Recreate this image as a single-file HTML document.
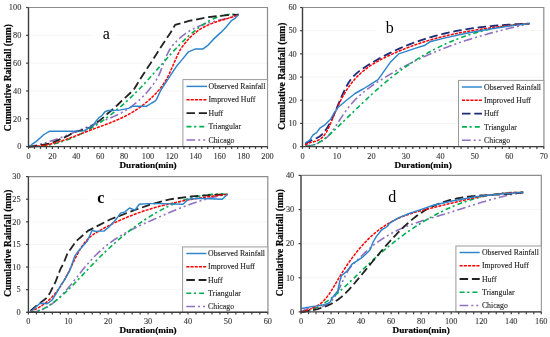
<!DOCTYPE html>
<html><head><meta charset="utf-8"><style>
html,body{margin:0;padding:0;background:#fff;}
svg{display:block;will-change:transform;}
text{font-family:"Liberation Serif", serif;}
</style></head><body>
<svg width="550" height="337" viewBox="0 0 550 337">
<rect width="550" height="337" fill="#fff"/>
<line x1="28.5" y1="118.78" x2="267.5" y2="118.78" stroke="#f6f6f6" stroke-width="1"/>
<line x1="28.5" y1="90.96" x2="267.5" y2="90.96" stroke="#f6f6f6" stroke-width="1"/>
<line x1="28.5" y1="63.14" x2="267.5" y2="63.14" stroke="#f6f6f6" stroke-width="1"/>
<line x1="28.5" y1="35.32" x2="267.5" y2="35.32" stroke="#f6f6f6" stroke-width="1"/>
<rect x="92.8" y="22.6" width="24" height="20" fill="#fff"/>
<polyline points="28.5,7.5 267.5,7.5 267.5,146.6" fill="none" stroke="#8c8c8c" stroke-width="1.2"/>
<polyline points="28.5,146.59 30,146.36 31.5,146.11 33,145.83 34.5,145.53 36,145.22 37.5,144.88 39,144.52 40.5,144.15 42,143.75 43.5,143.34 45,142.92 46.5,142.47 48,142.02 49.5,141.54 51,141.06 52.5,140.56 54,140.05 55.5,139.53 57,138.99 58.5,138.45 60,137.89 61.5,137.33 63,136.76 64.5,136.18 66,135.6 67.5,135.01 69,134.41 70.5,133.81 72,133.21 73.5,132.6 75,131.99 76.5,131.37 78,130.76 79.5,130.15 81,129.53 82.5,128.92 84,128.31 85.5,127.7 87,127.09 88.5,126.49 90,125.89 91.5,125.29 93,124.7 94.5,124.12 96,123.55 97.5,122.98 99,122.41 100.5,121.84 102,121.27 103.5,120.7 105,120.12 106.5,119.53 108,118.93 109.5,118.32 111,117.69 112.5,117.05 114,116.38 115.5,115.7 117,114.99 118.5,114.25 120,113.48 121.5,112.69 123,111.85 124.5,110.99 126,110.08 127.5,109.14 129,108.15 130.5,107.12 132,106.04 133.5,104.91 135,103.73 136.5,102.5 138,101.21 139.5,99.86 141,98.46 142.5,96.99 144,95.45 145.5,93.85 147,92.18 148.5,90.43 150,88.61 151.5,86.72 153,84.75 154.5,82.69 156,80.46 157.5,77.91 159,74.91 160.5,71.38 162,67.49 163.5,63.48 165,59.56 166.5,55.96 168,52.75 169.5,49.95 171,47.57 172.5,45.61 174,43.9 175.5,42.3 177,40.78 178.5,39.35 180,37.99 181.5,36.7 183,35.48 184.5,34.33 186,33.25 187.5,32.23 189,31.27 190.5,30.36 192,29.51 193.5,28.72 195,27.97 196.5,27.26 198,26.6 199.5,25.98 201,25.39 202.5,24.84 204,24.32 205.5,23.83 207,23.37 208.5,22.93 210,22.51 211.5,22.1 213,21.72 214.5,21.34 216,20.97 217.5,20.61 219,20.25 220.5,19.89 222,19.53 223.5,19.17 225,18.8 226.5,18.41 228,18.02 229.5,17.6 231,17.17 232.5,16.72 234,16.24 235.5,15.73 237,15.2 238.5,14.63 238.6,14.59" fill="none" stroke="#9070c0" stroke-width="1.6" stroke-dasharray="8.7 3 2 3 2 3" stroke-linejoin="round"/>
<polyline points="28.5,146.56 30,146.59 31.5,146.6 33,146.59 34.5,146.55 36,146.48 37.5,146.4 39,146.29 40.5,146.15 42,145.99 43.5,145.81 45,145.61 46.5,145.38 48,145.13 49.5,144.85 51,144.55 52.5,144.23 54,143.89 55.5,143.52 57,143.13 58.5,142.72 60,142.28 61.5,141.82 63,141.34 64.5,140.84 66,140.31 67.5,139.77 69,139.2 70.5,138.6 72,137.99 73.5,137.35 75,136.69 76.5,136.01 78,135.31 79.5,134.59 81,133.84 82.5,133.08 84,132.29 85.5,131.48 87,130.65 88.5,129.8 90,128.93 91.5,128.03 93,127.12 94.5,126.18 96,125.22 97.5,124.25 99,123.25 100.5,122.23 102,121.19 103.5,120.13 105,119.05 106.5,117.95 108,116.83 109.5,115.69 111,114.53 112.5,113.35 114,112.15 115.5,110.93 117,109.69 118.5,108.43 120,107.15 121.5,105.85 123,104.53 124.5,103.2 126,101.84 127.5,100.46 129,99.07 130.5,97.66 132,96.22 133.5,94.77 135,93.3 136.5,91.81 138,90.3 139.5,88.78 141,87.23 142.5,85.67 144,84.09 145.5,82.49 147,80.87 148.5,79.23 150,77.58 151.5,75.91 153,74.23 154.5,72.55 156,70.85 157.5,69.14 159,67.44 160.5,65.73 162,64.02 163.5,62.31 165,60.61 166.5,58.92 168,57.23 169.5,55.56 171,53.9 172.5,52.25 174,50.62 175.5,49.01 177,47.42 178.5,45.86 180,44.32 181.5,42.81 183,41.33 184.5,39.87 186,38.45 187.5,37.05 189,35.69 190.5,34.36 192,33.06 193.5,31.8 195,30.57 196.5,29.38 198,28.23 199.5,27.11 201,26.04 202.5,25 204,24.01 205.5,23.06 207,22.15 208.5,21.28 210,20.46 211.5,19.69 213,18.96 214.5,18.28 216,17.65 217.5,17.06 219,16.53 220.5,16.05 222,15.63 223.5,15.25 225,14.93 226.5,14.67 228,14.46 229.5,14.31 231,14.21 232.5,14.18 234,14.21 235.5,14.29 237,14.44 238.5,14.65 238.6,14.67" fill="none" stroke="#00b050" stroke-width="1.6" stroke-dasharray="5 2.6 2.1 3.1" stroke-linejoin="round"/>
<polyline points="28.5,146.6 34.5,146.2 49.4,143.6 54.2,141.8 67.6,136 75,131.8 83.9,129.6 90.1,127.4 98.2,121.6 104.4,116.7 107.7,113.5 113.5,108.6 117.5,105 121.9,100.6 126.4,96.6 131.7,91.7 134.5,88.5 141.1,77.8 145.6,70.7 152.7,60 161.3,46.5 166.1,39.2 170,33.6 175.1,24.9 189.1,20.9 208.2,17.1 227.3,15.2 238.6,14.6" fill="none" stroke="#222222" stroke-width="1.8" stroke-dasharray="8.5 3.8" stroke-linejoin="round"/>
<polyline points="28.5,146.6 30,146.63 31.5,146.62 33,146.58 34.5,146.51 36,146.41 37.5,146.28 39,146.12 40.5,145.93 42,145.72 43.5,145.48 45,145.21 46.5,144.92 48,144.61 49.5,144.27 51,143.92 52.5,143.54 54,143.14 55.5,142.73 57,142.3 58.5,141.85 60,141.38 61.5,140.91 63,140.41 64.5,139.91 66,139.39 67.5,138.87 69,138.33 70.5,137.78 72,137.23 73.5,136.67 75,136.1 76.5,135.53 78,134.96 79.5,134.38 81,133.8 82.5,133.21 84,132.63 85.5,132.05 87,131.47 88.5,130.89 90,130.32 91.5,129.75 93,129.19 94.5,128.63 96,128.08 97.5,127.53 99,126.98 100.5,126.44 102,125.89 103.5,125.34 105,124.78 106.5,124.22 108,123.65 109.5,123.08 111,122.49 112.5,121.9 114,121.29 115.5,120.67 117,120.03 118.5,119.37 120,118.7 121.5,118.01 123,117.29 124.5,116.55 126,115.79 127.5,115 129,114.19 130.5,113.35 132,112.47 133.5,111.57 135,110.63 136.5,109.66 138,108.65 139.5,107.61 141,106.52 142.5,105.4 144,104.24 145.5,103.03 147,101.78 148.5,100.48 150,99.13 151.5,97.74 153,96.3 154.5,94.8 156,93.25 157.5,91.62 159,89.9 160.5,88.06 162,86.08 163.5,83.93 165,81.61 166.5,79.08 168,76.33 169.5,73.32 171,70.06 172.5,66.62 174,63.08 175.5,59.58 177,56.2 178.5,53.06 180,50.26 181.5,47.83 183,45.7 184.5,43.74 186,41.91 187.5,40.18 189,38.55 190.5,37.02 192,35.59 193.5,34.24 195,32.99 196.5,31.81 198,30.71 199.5,29.68 201,28.73 202.5,27.83 204,27 205.5,26.22 207,25.5 208.5,24.82 210,24.19 211.5,23.59 213,23.03 214.5,22.5 216,21.99 217.5,21.51 219,21.04 220.5,20.59 222,20.15 223.5,19.71 225,19.27 226.5,18.83 228,18.38 229.5,17.91 231,17.43 232.5,16.93 234,16.41 235.5,15.85 237,15.26 238.5,14.64 238.6,14.59" fill="none" stroke="#ff0000" stroke-width="1.5" stroke-dasharray="3.1 1.1" stroke-linejoin="round"/>
<polyline points="28.5,146.6 30.2,146.2 32.5,143.8 36,141.6 44,134.5 49.4,131.3 75,131.3 83.9,130.9 92.8,125.6 96.4,120.7 99,117.6 101.7,115.8 105,111.8 108.6,110.4 113,110.4 119.2,110.1 128.6,108.4 133,106.1 146.4,106.3 151.7,103 155,101.2 156.5,99.4 160.9,90 166.9,80.8 171.3,74.1 177.3,65.2 182.3,59.4 188.5,51.8 195.5,48.9 203.1,48.9 208.2,45.1 213.3,39.4 220.9,32.4 226,27.3 231.1,20.9 234.9,18.4 238.6,14.6" fill="none" stroke="#2b84cc" stroke-width="1.45" stroke-linejoin="round"/>
<rect x="182.9" y="79.6" width="84.6" height="67" fill="#fff" stroke="#9a9a9a" stroke-width="1"/>
<line x1="186.5" y1="86.4" x2="207" y2="86.4" stroke="#2b84cc" stroke-width="1.45"/>
<text x="208.5" y="89" font-size="7.8" fill="#1e1e1e" stroke="#1e1e1e" stroke-width="0.12">Observed Rainfall</text>
<line x1="186.5" y1="99.8" x2="207" y2="99.8" stroke="#ff0000" stroke-width="1.5" stroke-dasharray="3.1 1.1"/>
<text x="208.5" y="102.4" font-size="7.8" fill="#1e1e1e" stroke="#1e1e1e" stroke-width="0.12">Improved Huff</text>
<line x1="186.5" y1="113.2" x2="207" y2="113.2" stroke="#222222" stroke-width="1.8" stroke-dasharray="8.5 3.8"/>
<text x="208.5" y="115.8" font-size="7.8" fill="#1e1e1e" stroke="#1e1e1e" stroke-width="0.12">Huff</text>
<line x1="186.5" y1="126.6" x2="207" y2="126.6" stroke="#00b050" stroke-width="1.6" stroke-dasharray="5 2.6 2.1 3.1"/>
<text x="208.5" y="129.2" font-size="7.8" fill="#1e1e1e" stroke="#1e1e1e" stroke-width="0.12">Triangular</text>
<line x1="186.5" y1="140" x2="207" y2="140" stroke="#9070c0" stroke-width="1.6" stroke-dasharray="8.7 3 2 3 2 3"/>
<text x="208.5" y="142.6" font-size="7.8" fill="#1e1e1e" stroke="#1e1e1e" stroke-width="0.12">Chicago</text>
<line x1="28.5" y1="7.5" x2="28.5" y2="146.6" stroke="#3c3c3c" stroke-width="1.4"/>
<line x1="27.8" y1="146.6" x2="267.5" y2="146.6" stroke="#3c3c3c" stroke-width="1.4"/>
<line x1="28.5" y1="146.6" x2="28.5" y2="148.9" stroke="#3c3c3c" stroke-width="1.2"/>
<line x1="34.48" y1="146.6" x2="34.48" y2="148.9" stroke="#3c3c3c" stroke-width="1.2"/>
<line x1="40.45" y1="146.6" x2="40.45" y2="148.9" stroke="#3c3c3c" stroke-width="1.2"/>
<line x1="46.42" y1="146.6" x2="46.42" y2="148.9" stroke="#3c3c3c" stroke-width="1.2"/>
<line x1="52.4" y1="146.6" x2="52.4" y2="148.9" stroke="#3c3c3c" stroke-width="1.2"/>
<line x1="58.38" y1="146.6" x2="58.38" y2="148.9" stroke="#3c3c3c" stroke-width="1.2"/>
<line x1="64.35" y1="146.6" x2="64.35" y2="148.9" stroke="#3c3c3c" stroke-width="1.2"/>
<line x1="70.33" y1="146.6" x2="70.33" y2="148.9" stroke="#3c3c3c" stroke-width="1.2"/>
<line x1="76.3" y1="146.6" x2="76.3" y2="148.9" stroke="#3c3c3c" stroke-width="1.2"/>
<line x1="82.28" y1="146.6" x2="82.28" y2="148.9" stroke="#3c3c3c" stroke-width="1.2"/>
<line x1="88.25" y1="146.6" x2="88.25" y2="148.9" stroke="#3c3c3c" stroke-width="1.2"/>
<line x1="94.22" y1="146.6" x2="94.22" y2="148.9" stroke="#3c3c3c" stroke-width="1.2"/>
<line x1="100.2" y1="146.6" x2="100.2" y2="148.9" stroke="#3c3c3c" stroke-width="1.2"/>
<line x1="106.17" y1="146.6" x2="106.17" y2="148.9" stroke="#3c3c3c" stroke-width="1.2"/>
<line x1="112.15" y1="146.6" x2="112.15" y2="148.9" stroke="#3c3c3c" stroke-width="1.2"/>
<line x1="118.12" y1="146.6" x2="118.12" y2="148.9" stroke="#3c3c3c" stroke-width="1.2"/>
<line x1="124.1" y1="146.6" x2="124.1" y2="148.9" stroke="#3c3c3c" stroke-width="1.2"/>
<line x1="130.07" y1="146.6" x2="130.07" y2="148.9" stroke="#3c3c3c" stroke-width="1.2"/>
<line x1="136.05" y1="146.6" x2="136.05" y2="148.9" stroke="#3c3c3c" stroke-width="1.2"/>
<line x1="142.03" y1="146.6" x2="142.03" y2="148.9" stroke="#3c3c3c" stroke-width="1.2"/>
<line x1="148" y1="146.6" x2="148" y2="148.9" stroke="#3c3c3c" stroke-width="1.2"/>
<line x1="153.97" y1="146.6" x2="153.97" y2="148.9" stroke="#3c3c3c" stroke-width="1.2"/>
<line x1="159.95" y1="146.6" x2="159.95" y2="148.9" stroke="#3c3c3c" stroke-width="1.2"/>
<line x1="165.93" y1="146.6" x2="165.93" y2="148.9" stroke="#3c3c3c" stroke-width="1.2"/>
<line x1="171.9" y1="146.6" x2="171.9" y2="148.9" stroke="#3c3c3c" stroke-width="1.2"/>
<line x1="177.88" y1="146.6" x2="177.88" y2="148.9" stroke="#3c3c3c" stroke-width="1.2"/>
<line x1="183.85" y1="146.6" x2="183.85" y2="148.9" stroke="#3c3c3c" stroke-width="1.2"/>
<line x1="189.82" y1="146.6" x2="189.82" y2="148.9" stroke="#3c3c3c" stroke-width="1.2"/>
<line x1="195.8" y1="146.6" x2="195.8" y2="148.9" stroke="#3c3c3c" stroke-width="1.2"/>
<line x1="201.78" y1="146.6" x2="201.78" y2="148.9" stroke="#3c3c3c" stroke-width="1.2"/>
<line x1="207.75" y1="146.6" x2="207.75" y2="148.9" stroke="#3c3c3c" stroke-width="1.2"/>
<line x1="213.72" y1="146.6" x2="213.72" y2="148.9" stroke="#3c3c3c" stroke-width="1.2"/>
<line x1="219.7" y1="146.6" x2="219.7" y2="148.9" stroke="#3c3c3c" stroke-width="1.2"/>
<line x1="225.68" y1="146.6" x2="225.68" y2="148.9" stroke="#3c3c3c" stroke-width="1.2"/>
<line x1="231.65" y1="146.6" x2="231.65" y2="148.9" stroke="#3c3c3c" stroke-width="1.2"/>
<line x1="237.62" y1="146.6" x2="237.62" y2="148.9" stroke="#3c3c3c" stroke-width="1.2"/>
<line x1="243.6" y1="146.6" x2="243.6" y2="148.9" stroke="#3c3c3c" stroke-width="1.2"/>
<line x1="249.57" y1="146.6" x2="249.57" y2="148.9" stroke="#3c3c3c" stroke-width="1.2"/>
<line x1="255.55" y1="146.6" x2="255.55" y2="148.9" stroke="#3c3c3c" stroke-width="1.2"/>
<line x1="261.52" y1="146.6" x2="261.52" y2="148.9" stroke="#3c3c3c" stroke-width="1.2"/>
<line x1="267.5" y1="146.6" x2="267.5" y2="148.9" stroke="#3c3c3c" stroke-width="1.2"/>
<text x="28.5" y="158.5" font-size="8.3" fill="#333" stroke="#333" stroke-width="0.1" text-anchor="middle">0</text>
<text x="52.4" y="158.5" font-size="8.3" fill="#333" stroke="#333" stroke-width="0.1" text-anchor="middle">20</text>
<text x="76.3" y="158.5" font-size="8.3" fill="#333" stroke="#333" stroke-width="0.1" text-anchor="middle">40</text>
<text x="100.2" y="158.5" font-size="8.3" fill="#333" stroke="#333" stroke-width="0.1" text-anchor="middle">60</text>
<text x="124.1" y="158.5" font-size="8.3" fill="#333" stroke="#333" stroke-width="0.1" text-anchor="middle">80</text>
<text x="148" y="158.5" font-size="8.3" fill="#333" stroke="#333" stroke-width="0.1" text-anchor="middle">100</text>
<text x="171.9" y="158.5" font-size="8.3" fill="#333" stroke="#333" stroke-width="0.1" text-anchor="middle">120</text>
<text x="195.8" y="158.5" font-size="8.3" fill="#333" stroke="#333" stroke-width="0.1" text-anchor="middle">140</text>
<text x="219.7" y="158.5" font-size="8.3" fill="#333" stroke="#333" stroke-width="0.1" text-anchor="middle">160</text>
<text x="243.6" y="158.5" font-size="8.3" fill="#333" stroke="#333" stroke-width="0.1" text-anchor="middle">180</text>
<text x="267.5" y="158.5" font-size="8.3" fill="#333" stroke="#333" stroke-width="0.1" text-anchor="middle">200</text>
<line x1="26.1" y1="146.6" x2="28.5" y2="146.6" stroke="#3c3c3c" stroke-width="1.2"/>
<text x="21.3" y="149.4" font-size="8.3" fill="#333" stroke="#333" stroke-width="0.1" text-anchor="end">0</text>
<line x1="26.1" y1="118.78" x2="28.5" y2="118.78" stroke="#3c3c3c" stroke-width="1.2"/>
<text x="21.3" y="121.58" font-size="8.3" fill="#333" stroke="#333" stroke-width="0.1" text-anchor="end">20</text>
<line x1="26.1" y1="90.96" x2="28.5" y2="90.96" stroke="#3c3c3c" stroke-width="1.2"/>
<text x="21.3" y="93.76" font-size="8.3" fill="#333" stroke="#333" stroke-width="0.1" text-anchor="end">40</text>
<line x1="26.1" y1="63.14" x2="28.5" y2="63.14" stroke="#3c3c3c" stroke-width="1.2"/>
<text x="21.3" y="65.94" font-size="8.3" fill="#333" stroke="#333" stroke-width="0.1" text-anchor="end">60</text>
<line x1="26.1" y1="35.32" x2="28.5" y2="35.32" stroke="#3c3c3c" stroke-width="1.2"/>
<text x="21.3" y="38.12" font-size="8.3" fill="#333" stroke="#333" stroke-width="0.1" text-anchor="end">80</text>
<line x1="26.1" y1="7.5" x2="28.5" y2="7.5" stroke="#3c3c3c" stroke-width="1.2"/>
<text x="21.3" y="10.3" font-size="8.3" fill="#333" stroke="#333" stroke-width="0.1" text-anchor="end">100</text>
<text x="148" y="167.6" font-size="9.2" font-weight="bold" fill="#000" stroke="#000" stroke-width="0.2" text-anchor="middle">Duration(min)</text>
<text transform="translate(10.6,77.65) rotate(-90)" x="0" y="0" font-size="9.5" font-weight="bold" fill="#000" stroke="#000" stroke-width="0.2" text-anchor="middle">Cumulative Rainfall (mm)</text>
<text x="102.8" y="38.6" font-size="16" fill="#000">a</text>
<line x1="302.5" y1="123.42" x2="543.8" y2="123.42" stroke="#f6f6f6" stroke-width="1"/>
<line x1="302.5" y1="100.23" x2="543.8" y2="100.23" stroke="#f6f6f6" stroke-width="1"/>
<line x1="302.5" y1="77.05" x2="543.8" y2="77.05" stroke="#f6f6f6" stroke-width="1"/>
<line x1="302.5" y1="53.87" x2="543.8" y2="53.87" stroke="#f6f6f6" stroke-width="1"/>
<line x1="302.5" y1="30.68" x2="543.8" y2="30.68" stroke="#f6f6f6" stroke-width="1"/>
<rect x="375.8" y="17.2" width="24" height="20" fill="#fff"/>
<polyline points="302.5,7.5 543.8,7.5 543.8,146.6" fill="none" stroke="#8c8c8c" stroke-width="1.2"/>
<polyline points="305.2,145.59 306.7,145.59 308.2,145.54 309.7,145.42 311.2,145.24 312.7,144.97 314.2,144.62 315.7,144.18 317.2,143.64 318.7,142.99 320.2,142.24 321.7,141.36 323.2,140.36 324.7,139.22 326.2,137.95 327.7,136.52 329.2,134.95 330.7,133.21 332.2,131.31 333.7,129.24 335.2,127.04 336.7,124.75 338.2,122.4 339.7,120.03 341.2,117.68 342.7,115.39 344.2,113.2 345.7,111.1 347.2,109.09 348.7,107.18 350.2,105.34 351.7,103.59 353.2,101.91 354.7,100.31 356.2,98.78 357.7,97.31 359.2,95.9 360.7,94.55 362.2,93.25 363.7,92.01 365.2,90.8 366.7,89.64 368.2,88.52 369.7,87.43 371.2,86.37 372.7,85.34 374.2,84.32 375.7,83.33 377.2,82.35 378.7,81.38 380.2,80.42 381.7,79.47 383.2,78.53 384.7,77.61 386.2,76.69 387.7,75.78 389.2,74.89 390.7,74 392.2,73.13 393.7,72.26 395.2,71.4 396.7,70.56 398.2,69.72 399.7,68.89 401.2,68.07 402.7,67.26 404.2,66.47 405.7,65.67 407.2,64.89 408.7,64.12 410.2,63.36 411.7,62.6 413.2,61.86 414.7,61.12 416.2,60.39 417.7,59.67 419.2,58.96 420.7,58.26 422.2,57.56 423.7,56.88 425.2,56.2 426.7,55.53 428.2,54.87 429.7,54.21 431.2,53.56 432.7,52.92 434.2,52.29 435.7,51.67 437.2,51.05 438.7,50.44 440.2,49.84 441.7,49.24 443.2,48.65 444.7,48.07 446.2,47.5 447.7,46.93 449.2,46.37 450.7,45.81 452.2,45.26 453.7,44.72 455.2,44.18 456.7,43.65 458.2,43.13 459.7,42.61 461.2,42.1 462.7,41.59 464.2,41.09 465.7,40.6 467.2,40.11 468.7,39.63 470.2,39.15 471.7,38.68 473.2,38.21 474.7,37.75 476.2,37.29 477.7,36.84 479.2,36.39 480.7,35.95 482.2,35.51 483.7,35.08 485.2,34.65 486.7,34.22 488.2,33.8 489.7,33.39 491.2,32.97 492.7,32.57 494.2,32.16 495.7,31.76 497.2,31.37 498.7,30.98 500.2,30.59 501.7,30.2 503.2,29.82 504.7,29.44 506.2,29.07 507.7,28.7 509.2,28.33 510.7,27.96 512.2,27.6 513.7,27.24 515.2,26.88 516.7,26.53 518.2,26.18 519.7,25.83 521.2,25.48 522.7,25.13 524.2,24.79 525.7,24.45 527.2,24.11 528.7,23.78 529.6,23.58" fill="none" stroke="#9070c0" stroke-width="1.6" stroke-dasharray="8.7 3 2 3 2 3" stroke-linejoin="round"/>
<polyline points="305.9,146.06 307.4,146.11 308.9,146.04 310.4,145.83 311.9,145.5 313.4,145.05 314.9,144.5 316.4,143.83 317.9,143.08 319.4,142.23 320.9,141.3 322.4,140.28 323.9,139.2 325.4,138.06 326.9,136.85 328.4,135.59 329.9,134.29 331.4,132.94 332.9,131.57 334.4,130.17 335.9,128.74 337.4,127.31 338.9,125.86 340.4,124.42 341.9,122.97 343.4,121.51 344.9,120.06 346.4,118.6 347.9,117.14 349.4,115.68 350.9,114.22 352.4,112.77 353.9,111.31 355.4,109.86 356.9,108.41 358.4,106.97 359.9,105.52 361.4,104.09 362.9,102.66 364.4,101.23 365.9,99.82 367.4,98.41 368.9,97.01 370.4,95.62 371.9,94.23 373.4,92.86 374.9,91.5 376.4,90.15 377.9,88.82 379.4,87.49 380.9,86.18 382.4,84.89 383.9,83.6 385.4,82.34 386.9,81.09 388.4,79.86 389.9,78.64 391.4,77.44 392.9,76.25 394.4,75.08 395.9,73.93 397.4,72.79 398.9,71.67 400.4,70.56 401.9,69.47 403.4,68.39 404.9,67.33 406.4,66.28 407.9,65.25 409.4,64.23 410.9,63.23 412.4,62.24 413.9,61.26 415.4,60.3 416.9,59.36 418.4,58.43 419.9,57.51 421.4,56.61 422.9,55.72 424.4,54.85 425.9,53.99 427.4,53.14 428.9,52.31 430.4,51.49 431.9,50.69 433.4,49.9 434.9,49.12 436.4,48.35 437.9,47.6 439.4,46.87 440.9,46.14 442.4,45.43 443.9,44.73 445.4,44.04 446.9,43.37 448.4,42.71 449.9,42.06 451.4,41.43 452.9,40.8 454.4,40.19 455.9,39.59 457.4,39.01 458.9,38.43 460.4,37.87 461.9,37.32 463.4,36.78 464.9,36.26 466.4,35.74 467.9,35.24 469.4,34.75 470.9,34.27 472.4,33.8 473.9,33.34 475.4,32.89 476.9,32.46 478.4,32.03 479.9,31.62 481.4,31.22 482.9,30.83 484.4,30.45 485.9,30.08 487.4,29.72 488.9,29.37 490.4,29.03 491.9,28.7 493.4,28.38 494.9,28.08 496.4,27.78 497.9,27.49 499.4,27.21 500.9,26.94 502.4,26.68 503.9,26.44 505.4,26.2 506.9,25.97 508.4,25.75 509.9,25.53 511.4,25.33 512.9,25.14 514.4,24.96 515.9,24.78 517.4,24.61 518.9,24.46 520.4,24.31 521.9,24.17 523.4,24.04 524.9,23.92 526.4,23.8 527.9,23.7 529.4,23.6 529.6,23.59" fill="none" stroke="#00b050" stroke-width="1.6" stroke-dasharray="5 2.6 2.1 3.1" stroke-linejoin="round"/>
<polyline points="305.2,144.59 306.7,143.21 308.2,142.09 309.7,141.18 311.2,140.42 312.7,139.76 314.2,139.15 315.7,138.52 317.2,137.83 318.7,137.01 320.2,136.01 321.7,134.78 323.2,133.26 324.7,131.42 326.2,129.3 327.7,126.91 329.2,124.27 330.7,121.41 332.2,118.35 333.7,115.11 335.2,111.72 336.7,108.22 338.2,104.66 339.7,101.09 341.2,97.56 342.7,94.14 344.2,90.86 345.7,87.79 347.2,84.97 348.7,82.46 350.2,80.26 351.7,78.32 353.2,76.6 354.7,75.06 356.2,73.66 357.7,72.37 359.2,71.16 360.7,70.03 362.2,68.96 363.7,67.94 365.2,66.96 366.7,66 368.2,65.06 369.7,64.13 371.2,63.22 372.7,62.32 374.2,61.43 375.7,60.56 377.2,59.7 378.7,58.86 380.2,58.03 381.7,57.21 383.2,56.41 384.7,55.62 386.2,54.84 387.7,54.08 389.2,53.33 390.7,52.59 392.2,51.86 393.7,51.15 395.2,50.45 396.7,49.76 398.2,49.08 399.7,48.42 401.2,47.76 402.7,47.12 404.2,46.49 405.7,45.88 407.2,45.27 408.7,44.67 410.2,44.09 411.7,43.52 413.2,42.96 414.7,42.41 416.2,41.87 417.7,41.34 419.2,40.82 420.7,40.31 422.2,39.81 423.7,39.32 425.2,38.85 426.7,38.38 428.2,37.92 429.7,37.47 431.2,37.03 432.7,36.6 434.2,36.18 435.7,35.77 437.2,35.37 438.7,34.98 440.2,34.6 441.7,34.22 443.2,33.86 444.7,33.5 446.2,33.15 447.7,32.81 449.2,32.48 450.7,32.15 452.2,31.84 453.7,31.53 455.2,31.23 456.7,30.94 458.2,30.65 459.7,30.37 461.2,30.1 462.7,29.84 464.2,29.58 465.7,29.33 467.2,29.09 468.7,28.86 470.2,28.63 471.7,28.41 473.2,28.19 474.7,27.98 476.2,27.78 477.7,27.58 479.2,27.39 480.7,27.2 482.2,27.02 483.7,26.85 485.2,26.68 486.7,26.51 488.2,26.35 489.7,26.2 491.2,26.05 492.7,25.91 494.2,25.77 495.7,25.64 497.2,25.51 498.7,25.38 500.2,25.26 501.7,25.15 503.2,25.03 504.7,24.93 506.2,24.82 507.7,24.72 509.2,24.62 510.7,24.53 512.2,24.44 513.7,24.35 515.2,24.27 516.7,24.19 518.2,24.11 519.7,24.04 521.2,23.96 522.7,23.89 524.2,23.83 525.7,23.76 527.2,23.7 528.7,23.64 529.6,23.6" fill="none" stroke="#1c2a78" stroke-width="1.8" stroke-dasharray="8.5 3.8" stroke-linejoin="round"/>
<polyline points="305.2,145.2 306.7,144.19 308.2,143.41 309.7,142.82 311.2,142.36 312.7,141.96 314.2,141.58 315.7,141.16 317.2,140.64 318.7,139.97 320.2,139.09 321.7,137.94 323.2,136.47 324.7,134.62 326.2,132.34 327.7,129.6 329.2,126.49 330.7,123.09 332.2,119.53 333.7,115.89 335.2,112.28 336.7,108.8 338.2,105.51 339.7,102.38 341.2,99.43 342.7,96.64 344.2,94.01 345.7,91.52 347.2,89.17 348.7,86.96 350.2,84.87 351.7,82.91 353.2,81.05 354.7,79.31 356.2,77.66 357.7,76.1 359.2,74.63 360.7,73.23 362.2,71.91 363.7,70.65 365.2,69.44 366.7,68.3 368.2,67.21 369.7,66.16 371.2,65.16 372.7,64.21 374.2,63.29 375.7,62.41 377.2,61.56 378.7,60.73 380.2,59.93 381.7,59.16 383.2,58.4 384.7,57.65 386.2,56.91 387.7,56.19 389.2,55.48 390.7,54.78 392.2,54.09 393.7,53.41 395.2,52.75 396.7,52.09 398.2,51.45 399.7,50.81 401.2,50.19 402.7,49.57 404.2,48.97 405.7,48.38 407.2,47.79 408.7,47.22 410.2,46.66 411.7,46.1 413.2,45.56 414.7,45.02 416.2,44.5 417.7,43.98 419.2,43.48 420.7,42.98 422.2,42.49 423.7,42.01 425.2,41.54 426.7,41.08 428.2,40.62 429.7,40.18 431.2,39.74 432.7,39.31 434.2,38.89 435.7,38.48 437.2,38.07 438.7,37.67 440.2,37.28 441.7,36.9 443.2,36.53 444.7,36.16 446.2,35.8 447.7,35.44 449.2,35.1 450.7,34.76 452.2,34.42 453.7,34.1 455.2,33.78 456.7,33.46 458.2,33.16 459.7,32.86 461.2,32.56 462.7,32.27 464.2,31.99 465.7,31.71 467.2,31.44 468.7,31.17 470.2,30.91 471.7,30.65 473.2,30.4 474.7,30.16 476.2,29.91 477.7,29.68 479.2,29.45 480.7,29.22 482.2,29 483.7,28.78 485.2,28.56 486.7,28.35 488.2,28.15 489.7,27.95 491.2,27.75 492.7,27.55 494.2,27.36 495.7,27.17 497.2,26.99 498.7,26.81 500.2,26.63 501.7,26.46 503.2,26.28 504.7,26.12 506.2,25.95 507.7,25.78 509.2,25.62 510.7,25.46 512.2,25.31 513.7,25.15 515.2,25 516.7,24.85 518.2,24.7 519.7,24.55 521.2,24.4 522.7,24.26 524.2,24.12 525.7,23.97 527.2,23.83 528.7,23.69 529.6,23.61" fill="none" stroke="#ff0000" stroke-width="1.5" stroke-dasharray="3.1 1.1" stroke-linejoin="round"/>
<polyline points="305.2,142.8 309.5,140.3 313.1,134.9 316.6,132.6 320.2,127.8 324.9,124.8 330.9,118.9 333.5,114 338,107.5 345.6,101 355,93.5 363.1,89 371,84.2 378.1,79.7 390.6,61.9 398.6,53.9 408.4,50.6 415,48.4 425,45.2 430,41.8 444.2,38.1 466.4,33.2 488.5,29.2 510.7,25.9 529.6,23.6" fill="none" stroke="#2b84cc" stroke-width="1.45" stroke-linejoin="round"/>
<rect x="458.5" y="80.4" width="85.3" height="66.2" fill="#fff" stroke="#9a9a9a" stroke-width="1"/>
<line x1="462" y1="87" x2="482" y2="87" stroke="#2b84cc" stroke-width="1.45"/>
<text x="484.1" y="89.6" font-size="7.8" fill="#1e1e1e" stroke="#1e1e1e" stroke-width="0.12">Observed Rainfall</text>
<line x1="462" y1="100.3" x2="482" y2="100.3" stroke="#ff0000" stroke-width="1.5" stroke-dasharray="3.1 1.1"/>
<text x="484.1" y="102.9" font-size="7.8" fill="#1e1e1e" stroke="#1e1e1e" stroke-width="0.12">Improved Huff</text>
<line x1="462" y1="113.6" x2="482" y2="113.6" stroke="#1c2a78" stroke-width="1.8" stroke-dasharray="8.5 3.8"/>
<text x="484.1" y="116.2" font-size="7.8" fill="#1e1e1e" stroke="#1e1e1e" stroke-width="0.12">Huff</text>
<line x1="462" y1="126.9" x2="482" y2="126.9" stroke="#00b050" stroke-width="1.6" stroke-dasharray="5 2.6 2.1 3.1"/>
<text x="484.1" y="129.5" font-size="7.8" fill="#1e1e1e" stroke="#1e1e1e" stroke-width="0.12">Triangular</text>
<line x1="462" y1="140.2" x2="482" y2="140.2" stroke="#9070c0" stroke-width="1.6" stroke-dasharray="8.7 3 2 3 2 3"/>
<text x="484.1" y="142.8" font-size="7.8" fill="#1e1e1e" stroke="#1e1e1e" stroke-width="0.12">Chicago</text>
<line x1="302.5" y1="7.5" x2="302.5" y2="146.6" stroke="#3c3c3c" stroke-width="1.4"/>
<line x1="301.8" y1="146.6" x2="543.8" y2="146.6" stroke="#3c3c3c" stroke-width="1.4"/>
<line x1="302.5" y1="146.6" x2="302.5" y2="148.9" stroke="#3c3c3c" stroke-width="1.2"/>
<line x1="309.39" y1="146.6" x2="309.39" y2="148.9" stroke="#3c3c3c" stroke-width="1.2"/>
<line x1="316.29" y1="146.6" x2="316.29" y2="148.9" stroke="#3c3c3c" stroke-width="1.2"/>
<line x1="323.18" y1="146.6" x2="323.18" y2="148.9" stroke="#3c3c3c" stroke-width="1.2"/>
<line x1="330.08" y1="146.6" x2="330.08" y2="148.9" stroke="#3c3c3c" stroke-width="1.2"/>
<line x1="336.97" y1="146.6" x2="336.97" y2="148.9" stroke="#3c3c3c" stroke-width="1.2"/>
<line x1="343.87" y1="146.6" x2="343.87" y2="148.9" stroke="#3c3c3c" stroke-width="1.2"/>
<line x1="350.76" y1="146.6" x2="350.76" y2="148.9" stroke="#3c3c3c" stroke-width="1.2"/>
<line x1="357.65" y1="146.6" x2="357.65" y2="148.9" stroke="#3c3c3c" stroke-width="1.2"/>
<line x1="364.55" y1="146.6" x2="364.55" y2="148.9" stroke="#3c3c3c" stroke-width="1.2"/>
<line x1="371.44" y1="146.6" x2="371.44" y2="148.9" stroke="#3c3c3c" stroke-width="1.2"/>
<line x1="378.34" y1="146.6" x2="378.34" y2="148.9" stroke="#3c3c3c" stroke-width="1.2"/>
<line x1="385.23" y1="146.6" x2="385.23" y2="148.9" stroke="#3c3c3c" stroke-width="1.2"/>
<line x1="392.13" y1="146.6" x2="392.13" y2="148.9" stroke="#3c3c3c" stroke-width="1.2"/>
<line x1="399.02" y1="146.6" x2="399.02" y2="148.9" stroke="#3c3c3c" stroke-width="1.2"/>
<line x1="405.91" y1="146.6" x2="405.91" y2="148.9" stroke="#3c3c3c" stroke-width="1.2"/>
<line x1="412.81" y1="146.6" x2="412.81" y2="148.9" stroke="#3c3c3c" stroke-width="1.2"/>
<line x1="419.7" y1="146.6" x2="419.7" y2="148.9" stroke="#3c3c3c" stroke-width="1.2"/>
<line x1="426.6" y1="146.6" x2="426.6" y2="148.9" stroke="#3c3c3c" stroke-width="1.2"/>
<line x1="433.49" y1="146.6" x2="433.49" y2="148.9" stroke="#3c3c3c" stroke-width="1.2"/>
<line x1="440.39" y1="146.6" x2="440.39" y2="148.9" stroke="#3c3c3c" stroke-width="1.2"/>
<line x1="447.28" y1="146.6" x2="447.28" y2="148.9" stroke="#3c3c3c" stroke-width="1.2"/>
<line x1="454.17" y1="146.6" x2="454.17" y2="148.9" stroke="#3c3c3c" stroke-width="1.2"/>
<line x1="461.07" y1="146.6" x2="461.07" y2="148.9" stroke="#3c3c3c" stroke-width="1.2"/>
<line x1="467.96" y1="146.6" x2="467.96" y2="148.9" stroke="#3c3c3c" stroke-width="1.2"/>
<line x1="474.86" y1="146.6" x2="474.86" y2="148.9" stroke="#3c3c3c" stroke-width="1.2"/>
<line x1="481.75" y1="146.6" x2="481.75" y2="148.9" stroke="#3c3c3c" stroke-width="1.2"/>
<line x1="488.65" y1="146.6" x2="488.65" y2="148.9" stroke="#3c3c3c" stroke-width="1.2"/>
<line x1="495.54" y1="146.6" x2="495.54" y2="148.9" stroke="#3c3c3c" stroke-width="1.2"/>
<line x1="502.43" y1="146.6" x2="502.43" y2="148.9" stroke="#3c3c3c" stroke-width="1.2"/>
<line x1="509.33" y1="146.6" x2="509.33" y2="148.9" stroke="#3c3c3c" stroke-width="1.2"/>
<line x1="516.22" y1="146.6" x2="516.22" y2="148.9" stroke="#3c3c3c" stroke-width="1.2"/>
<line x1="523.12" y1="146.6" x2="523.12" y2="148.9" stroke="#3c3c3c" stroke-width="1.2"/>
<line x1="530.01" y1="146.6" x2="530.01" y2="148.9" stroke="#3c3c3c" stroke-width="1.2"/>
<line x1="536.91" y1="146.6" x2="536.91" y2="148.9" stroke="#3c3c3c" stroke-width="1.2"/>
<line x1="543.8" y1="146.6" x2="543.8" y2="148.9" stroke="#3c3c3c" stroke-width="1.2"/>
<text x="302.5" y="158.5" font-size="8.3" fill="#333" stroke="#333" stroke-width="0.1" text-anchor="middle">0</text>
<text x="336.97" y="158.5" font-size="8.3" fill="#333" stroke="#333" stroke-width="0.1" text-anchor="middle">10</text>
<text x="371.44" y="158.5" font-size="8.3" fill="#333" stroke="#333" stroke-width="0.1" text-anchor="middle">20</text>
<text x="405.91" y="158.5" font-size="8.3" fill="#333" stroke="#333" stroke-width="0.1" text-anchor="middle">30</text>
<text x="440.39" y="158.5" font-size="8.3" fill="#333" stroke="#333" stroke-width="0.1" text-anchor="middle">40</text>
<text x="474.86" y="158.5" font-size="8.3" fill="#333" stroke="#333" stroke-width="0.1" text-anchor="middle">50</text>
<text x="509.33" y="158.5" font-size="8.3" fill="#333" stroke="#333" stroke-width="0.1" text-anchor="middle">60</text>
<text x="543.8" y="158.5" font-size="8.3" fill="#333" stroke="#333" stroke-width="0.1" text-anchor="middle">70</text>
<line x1="300.1" y1="146.6" x2="302.5" y2="146.6" stroke="#3c3c3c" stroke-width="1.2"/>
<text x="296.7" y="149.4" font-size="8.3" fill="#333" stroke="#333" stroke-width="0.1" text-anchor="end">0</text>
<line x1="300.1" y1="123.42" x2="302.5" y2="123.42" stroke="#3c3c3c" stroke-width="1.2"/>
<text x="296.7" y="126.22" font-size="8.3" fill="#333" stroke="#333" stroke-width="0.1" text-anchor="end">10</text>
<line x1="300.1" y1="100.23" x2="302.5" y2="100.23" stroke="#3c3c3c" stroke-width="1.2"/>
<text x="296.7" y="103.03" font-size="8.3" fill="#333" stroke="#333" stroke-width="0.1" text-anchor="end">20</text>
<line x1="300.1" y1="77.05" x2="302.5" y2="77.05" stroke="#3c3c3c" stroke-width="1.2"/>
<text x="296.7" y="79.85" font-size="8.3" fill="#333" stroke="#333" stroke-width="0.1" text-anchor="end">30</text>
<line x1="300.1" y1="53.87" x2="302.5" y2="53.87" stroke="#3c3c3c" stroke-width="1.2"/>
<text x="296.7" y="56.67" font-size="8.3" fill="#333" stroke="#333" stroke-width="0.1" text-anchor="end">40</text>
<line x1="300.1" y1="30.68" x2="302.5" y2="30.68" stroke="#3c3c3c" stroke-width="1.2"/>
<text x="296.7" y="33.48" font-size="8.3" fill="#333" stroke="#333" stroke-width="0.1" text-anchor="end">50</text>
<line x1="300.1" y1="7.5" x2="302.5" y2="7.5" stroke="#3c3c3c" stroke-width="1.2"/>
<text x="296.7" y="10.3" font-size="8.3" fill="#333" stroke="#333" stroke-width="0.1" text-anchor="end">60</text>
<text x="423.15" y="167.6" font-size="9.2" font-weight="bold" fill="#000" stroke="#000" stroke-width="0.2" text-anchor="middle">Duration(min)</text>
<text transform="translate(284.6,76.15) rotate(-90)" x="0" y="0" font-size="9.5" font-weight="bold" fill="#000" stroke="#000" stroke-width="0.2" text-anchor="middle">Cumulative Rainfall (mm)</text>
<text x="385.8" y="33.2" font-size="16" fill="#000">b</text>
<line x1="28.4" y1="289.68" x2="267.8" y2="289.68" stroke="#f6f6f6" stroke-width="1"/>
<line x1="28.4" y1="267.07" x2="267.8" y2="267.07" stroke="#f6f6f6" stroke-width="1"/>
<line x1="28.4" y1="244.45" x2="267.8" y2="244.45" stroke="#f6f6f6" stroke-width="1"/>
<line x1="28.4" y1="221.83" x2="267.8" y2="221.83" stroke="#f6f6f6" stroke-width="1"/>
<line x1="28.4" y1="199.22" x2="267.8" y2="199.22" stroke="#f6f6f6" stroke-width="1"/>
<rect x="87.2" y="187" width="24" height="20" fill="#fff"/>
<polyline points="28.4,176.6 267.8,176.6 267.8,312.3" fill="none" stroke="#8c8c8c" stroke-width="1.2"/>
<polyline points="30.4,311.98 31.9,311.99 33.4,311.91 34.9,311.74 36.4,311.48 37.9,311.13 39.4,310.69 40.9,310.17 42.4,309.57 43.9,308.88 45.4,308.12 46.9,307.28 48.4,306.36 49.9,305.37 51.4,304.31 52.9,303.17 54.4,301.97 55.9,300.7 57.4,299.37 58.9,297.97 60.4,296.51 61.9,294.99 63.4,293.41 64.9,291.78 66.4,290.09 67.9,288.35 69.4,286.56 70.9,284.72 72.4,282.85 73.9,280.96 75.4,279.05 76.9,277.14 78.4,275.23 79.9,273.33 81.4,271.45 82.9,269.59 84.4,267.77 85.9,265.97 87.4,264.21 88.9,262.49 90.4,260.81 91.9,259.17 93.4,257.57 94.9,256.02 96.4,254.52 97.9,253.07 99.4,251.66 100.9,250.29 102.4,248.96 103.9,247.68 105.4,246.43 106.9,245.23 108.4,244.06 109.9,242.92 111.4,241.82 112.9,240.75 114.4,239.71 115.9,238.71 117.4,237.73 118.9,236.78 120.4,235.86 121.9,234.96 123.4,234.08 124.9,233.23 126.4,232.4 127.9,231.58 129.4,230.79 130.9,230.01 132.4,229.25 133.9,228.5 135.4,227.77 136.9,227.05 138.4,226.34 139.9,225.64 141.4,224.94 142.9,224.25 144.4,223.57 145.9,222.89 147.4,222.22 148.9,221.54 150.4,220.87 151.9,220.2 153.4,219.53 154.9,218.86 156.4,218.2 157.9,217.53 159.4,216.87 160.9,216.21 162.4,215.56 163.9,214.91 165.4,214.26 166.9,213.62 168.4,212.98 169.9,212.34 171.4,211.72 172.9,211.09 174.4,210.47 175.9,209.86 177.4,209.25 178.9,208.65 180.4,208.06 181.9,207.47 183.4,206.89 184.9,206.32 186.4,205.75 187.9,205.2 189.4,204.65 190.9,204.11 192.4,203.58 193.9,203.05 195.4,202.54 196.9,202.04 198.4,201.54 199.9,201.06 201.4,200.59 202.9,200.13 204.4,199.68 205.9,199.24 207.4,198.81 208.9,198.39 210.4,197.99 211.9,197.6 213.4,197.22 214.9,196.85 216.4,196.5 217.9,196.16 219.4,195.83 220.9,195.52 222.4,195.22 223.9,194.94 225.4,194.67 226.9,194.42 227.6,194.31" fill="none" stroke="#9070c0" stroke-width="1.6" stroke-dasharray="8.7 3 2 3 2 3" stroke-linejoin="round"/>
<polyline points="30.4,312.27 31.9,312.15 33.4,311.95 34.9,311.67 36.4,311.31 37.9,310.88 39.4,310.37 40.9,309.8 42.4,309.15 43.9,308.44 45.4,307.67 46.9,306.83 48.4,305.94 49.9,304.99 51.4,303.99 52.9,302.93 54.4,301.83 55.9,300.68 57.4,299.48 58.9,298.24 60.4,296.97 61.9,295.65 63.4,294.3 64.9,292.92 66.4,291.51 67.9,290.07 69.4,288.6 70.9,287.12 72.4,285.61 73.9,284.08 75.4,282.53 76.9,280.97 78.4,279.4 79.9,277.83 81.4,276.24 82.9,274.65 84.4,273.06 85.9,271.47 87.4,269.88 88.9,268.3 90.4,266.72 91.9,265.15 93.4,263.6 94.9,262.06 96.4,260.53 97.9,259.02 99.4,257.53 100.9,256.05 102.4,254.58 103.9,253.13 105.4,251.69 106.9,250.27 108.4,248.87 109.9,247.48 111.4,246.11 112.9,244.75 114.4,243.41 115.9,242.08 117.4,240.77 118.9,239.48 120.4,238.2 121.9,236.94 123.4,235.69 124.9,234.47 126.4,233.25 127.9,232.06 129.4,230.88 130.9,229.72 132.4,228.57 133.9,227.44 135.4,226.33 136.9,225.24 138.4,224.16 139.9,223.1 141.4,222.06 142.9,221.03 144.4,220.03 145.9,219.04 147.4,218.07 148.9,217.11 150.4,216.18 151.9,215.26 153.4,214.36 154.9,213.48 156.4,212.61 157.9,211.77 159.4,210.94 160.9,210.13 162.4,209.34 163.9,208.57 165.4,207.82 166.9,207.09 168.4,206.37 169.9,205.68 171.4,205 172.9,204.35 174.4,203.71 175.9,203.09 177.4,202.49 178.9,201.92 180.4,201.36 181.9,200.82 183.4,200.3 184.9,199.8 186.4,199.32 187.9,198.86 189.4,198.42 190.9,198.01 192.4,197.61 193.9,197.23 195.4,196.87 196.9,196.54 198.4,196.22 199.9,195.93 201.4,195.65 202.9,195.4 204.4,195.17 205.9,194.96 207.4,194.77 208.9,194.6 210.4,194.46 211.9,194.33 213.4,194.23 214.9,194.15 216.4,194.09 217.9,194.05 219.4,194.04 220.9,194.04 222.4,194.07 223.9,194.12 225.4,194.2 226.9,194.29 227.6,194.35" fill="none" stroke="#00b050" stroke-width="1.6" stroke-dasharray="5 2.6 2.1 3.1" stroke-linejoin="round"/>
<polyline points="30.4,311 37.4,304.9 47.2,297.6 50.5,291.9 55.4,282.1 60.7,268.5 63.6,263.3 67.4,253.6 76.3,241 88.2,230.6 98.6,225.4 110,219.5 128.4,212.4 148,205.3 169.8,199.3 191.6,196.4 213.5,194.9 227.6,194.3" fill="none" stroke="#222222" stroke-width="1.8" stroke-dasharray="8.5 3.8" stroke-linejoin="round"/>
<polyline points="30.4,311.59 31.9,310.95 33.4,310.27 34.9,309.56 36.4,308.8 37.9,308 39.4,307.14 40.9,306.23 42.4,305.25 43.9,304.19 45.4,303.07 46.9,301.86 48.4,300.56 49.9,299.17 51.4,297.69 52.9,296.1 54.4,294.4 55.9,292.58 57.4,290.65 58.9,288.58 60.4,286.39 61.9,284.06 63.4,281.59 64.9,278.96 66.4,276.19 67.9,273.29 69.4,270.3 70.9,267.26 72.4,264.19 73.9,261.14 75.4,258.13 76.9,255.2 78.4,252.39 79.9,249.73 81.4,247.25 82.9,244.99 84.4,242.96 85.9,241.14 87.4,239.5 88.9,238.04 90.4,236.72 91.9,235.53 93.4,234.45 94.9,233.45 96.4,232.52 97.9,231.63 99.4,230.77 100.9,229.92 102.4,229.09 103.9,228.26 105.4,227.46 106.9,226.66 108.4,225.89 109.9,225.12 111.4,224.37 112.9,223.63 114.4,222.9 115.9,222.18 117.4,221.48 118.9,220.79 120.4,220.11 121.9,219.45 123.4,218.8 124.9,218.16 126.4,217.53 127.9,216.91 129.4,216.3 130.9,215.71 132.4,215.12 133.9,214.55 135.4,213.99 136.9,213.43 138.4,212.89 139.9,212.36 141.4,211.84 142.9,211.33 144.4,210.83 145.9,210.34 147.4,209.86 148.9,209.39 150.4,208.93 151.9,208.47 153.4,208.03 154.9,207.59 156.4,207.17 157.9,206.75 159.4,206.34 160.9,205.94 162.4,205.55 163.9,205.16 165.4,204.79 166.9,204.42 168.4,204.06 169.9,203.71 171.4,203.36 172.9,203.02 174.4,202.69 175.9,202.36 177.4,202.05 178.9,201.73 180.4,201.43 181.9,201.13 183.4,200.84 184.9,200.55 186.4,200.27 187.9,200 189.4,199.73 190.9,199.46 192.4,199.2 193.9,198.95 195.4,198.7 196.9,198.46 198.4,198.22 199.9,197.98 201.4,197.75 202.9,197.53 204.4,197.31 205.9,197.09 207.4,196.88 208.9,196.67 210.4,196.46 211.9,196.26 213.4,196.06 214.9,195.86 216.4,195.67 217.9,195.48 219.4,195.29 220.9,195.1 222.4,194.92 223.9,194.74 225.4,194.56 226.9,194.38 227.6,194.3" fill="none" stroke="#ff0000" stroke-width="1.5" stroke-dasharray="3.1 1.1" stroke-linejoin="round"/>
<polyline points="30.4,311.2 32.5,310.3 38.9,304.2 40.7,303.3 45.5,303.5 47.2,303.8 52.1,300 58.7,289.4 61.1,284.5 64.4,280.4 70.1,269.8 74.8,256 79.3,249.9 87.4,241 92.1,230.3 95.7,231.5 100.4,231.1 104,231.1 108.7,227.3 115.9,219.6 120.6,213.1 125,211.9 129.5,208 134.9,210.2 139.3,204.3 148,203.6 161.1,203.6 182.9,204.3 188.4,199.3 198.2,198.2 222.2,199.3 227.6,194.3" fill="none" stroke="#2b84cc" stroke-width="1.45" stroke-linejoin="round"/>
<rect x="182.6" y="246.9" width="85.2" height="65.4" fill="#fff" stroke="#9a9a9a" stroke-width="1"/>
<line x1="186.3" y1="253.5" x2="206.4" y2="253.5" stroke="#2b84cc" stroke-width="1.45"/>
<text x="208.1" y="256.1" font-size="7.8" fill="#1e1e1e" stroke="#1e1e1e" stroke-width="0.12">Observed Rainfall</text>
<line x1="186.3" y1="266.75" x2="206.4" y2="266.75" stroke="#ff0000" stroke-width="1.5" stroke-dasharray="3.1 1.1"/>
<text x="208.1" y="269.35" font-size="7.8" fill="#1e1e1e" stroke="#1e1e1e" stroke-width="0.12">Improved Huff</text>
<line x1="186.3" y1="280" x2="206.4" y2="280" stroke="#222222" stroke-width="1.8" stroke-dasharray="8.5 3.8"/>
<text x="208.1" y="282.6" font-size="7.8" fill="#1e1e1e" stroke="#1e1e1e" stroke-width="0.12">Huff</text>
<line x1="186.3" y1="293.25" x2="206.4" y2="293.25" stroke="#00b050" stroke-width="1.6" stroke-dasharray="5 2.6 2.1 3.1"/>
<text x="208.1" y="295.85" font-size="7.8" fill="#1e1e1e" stroke="#1e1e1e" stroke-width="0.12">Triangular</text>
<line x1="186.3" y1="306.5" x2="206.4" y2="306.5" stroke="#9070c0" stroke-width="1.6" stroke-dasharray="8.7 3 2 3 2 3"/>
<text x="208.1" y="309.1" font-size="7.8" fill="#1e1e1e" stroke="#1e1e1e" stroke-width="0.12">Chicago</text>
<line x1="28.4" y1="176.6" x2="28.4" y2="312.3" stroke="#3c3c3c" stroke-width="1.4"/>
<line x1="27.7" y1="312.3" x2="267.8" y2="312.3" stroke="#3c3c3c" stroke-width="1.4"/>
<line x1="28.4" y1="312.3" x2="28.4" y2="314.6" stroke="#3c3c3c" stroke-width="1.2"/>
<line x1="36.38" y1="312.3" x2="36.38" y2="314.6" stroke="#3c3c3c" stroke-width="1.2"/>
<line x1="44.36" y1="312.3" x2="44.36" y2="314.6" stroke="#3c3c3c" stroke-width="1.2"/>
<line x1="52.34" y1="312.3" x2="52.34" y2="314.6" stroke="#3c3c3c" stroke-width="1.2"/>
<line x1="60.32" y1="312.3" x2="60.32" y2="314.6" stroke="#3c3c3c" stroke-width="1.2"/>
<line x1="68.3" y1="312.3" x2="68.3" y2="314.6" stroke="#3c3c3c" stroke-width="1.2"/>
<line x1="76.28" y1="312.3" x2="76.28" y2="314.6" stroke="#3c3c3c" stroke-width="1.2"/>
<line x1="84.26" y1="312.3" x2="84.26" y2="314.6" stroke="#3c3c3c" stroke-width="1.2"/>
<line x1="92.24" y1="312.3" x2="92.24" y2="314.6" stroke="#3c3c3c" stroke-width="1.2"/>
<line x1="100.22" y1="312.3" x2="100.22" y2="314.6" stroke="#3c3c3c" stroke-width="1.2"/>
<line x1="108.2" y1="312.3" x2="108.2" y2="314.6" stroke="#3c3c3c" stroke-width="1.2"/>
<line x1="116.18" y1="312.3" x2="116.18" y2="314.6" stroke="#3c3c3c" stroke-width="1.2"/>
<line x1="124.16" y1="312.3" x2="124.16" y2="314.6" stroke="#3c3c3c" stroke-width="1.2"/>
<line x1="132.14" y1="312.3" x2="132.14" y2="314.6" stroke="#3c3c3c" stroke-width="1.2"/>
<line x1="140.12" y1="312.3" x2="140.12" y2="314.6" stroke="#3c3c3c" stroke-width="1.2"/>
<line x1="148.1" y1="312.3" x2="148.1" y2="314.6" stroke="#3c3c3c" stroke-width="1.2"/>
<line x1="156.08" y1="312.3" x2="156.08" y2="314.6" stroke="#3c3c3c" stroke-width="1.2"/>
<line x1="164.06" y1="312.3" x2="164.06" y2="314.6" stroke="#3c3c3c" stroke-width="1.2"/>
<line x1="172.04" y1="312.3" x2="172.04" y2="314.6" stroke="#3c3c3c" stroke-width="1.2"/>
<line x1="180.02" y1="312.3" x2="180.02" y2="314.6" stroke="#3c3c3c" stroke-width="1.2"/>
<line x1="188" y1="312.3" x2="188" y2="314.6" stroke="#3c3c3c" stroke-width="1.2"/>
<line x1="195.98" y1="312.3" x2="195.98" y2="314.6" stroke="#3c3c3c" stroke-width="1.2"/>
<line x1="203.96" y1="312.3" x2="203.96" y2="314.6" stroke="#3c3c3c" stroke-width="1.2"/>
<line x1="211.94" y1="312.3" x2="211.94" y2="314.6" stroke="#3c3c3c" stroke-width="1.2"/>
<line x1="219.92" y1="312.3" x2="219.92" y2="314.6" stroke="#3c3c3c" stroke-width="1.2"/>
<line x1="227.9" y1="312.3" x2="227.9" y2="314.6" stroke="#3c3c3c" stroke-width="1.2"/>
<line x1="235.88" y1="312.3" x2="235.88" y2="314.6" stroke="#3c3c3c" stroke-width="1.2"/>
<line x1="243.86" y1="312.3" x2="243.86" y2="314.6" stroke="#3c3c3c" stroke-width="1.2"/>
<line x1="251.84" y1="312.3" x2="251.84" y2="314.6" stroke="#3c3c3c" stroke-width="1.2"/>
<line x1="259.82" y1="312.3" x2="259.82" y2="314.6" stroke="#3c3c3c" stroke-width="1.2"/>
<line x1="267.8" y1="312.3" x2="267.8" y2="314.6" stroke="#3c3c3c" stroke-width="1.2"/>
<text x="28.4" y="324.2" font-size="8.3" fill="#333" stroke="#333" stroke-width="0.1" text-anchor="middle">0</text>
<text x="68.3" y="324.2" font-size="8.3" fill="#333" stroke="#333" stroke-width="0.1" text-anchor="middle">10</text>
<text x="108.2" y="324.2" font-size="8.3" fill="#333" stroke="#333" stroke-width="0.1" text-anchor="middle">20</text>
<text x="148.1" y="324.2" font-size="8.3" fill="#333" stroke="#333" stroke-width="0.1" text-anchor="middle">30</text>
<text x="188" y="324.2" font-size="8.3" fill="#333" stroke="#333" stroke-width="0.1" text-anchor="middle">40</text>
<text x="227.9" y="324.2" font-size="8.3" fill="#333" stroke="#333" stroke-width="0.1" text-anchor="middle">50</text>
<text x="267.8" y="324.2" font-size="8.3" fill="#333" stroke="#333" stroke-width="0.1" text-anchor="middle">60</text>
<line x1="26" y1="312.3" x2="28.4" y2="312.3" stroke="#3c3c3c" stroke-width="1.2"/>
<text x="20.6" y="315.1" font-size="8.3" fill="#333" stroke="#333" stroke-width="0.1" text-anchor="end">0</text>
<line x1="26" y1="289.68" x2="28.4" y2="289.68" stroke="#3c3c3c" stroke-width="1.2"/>
<text x="20.6" y="292.48" font-size="8.3" fill="#333" stroke="#333" stroke-width="0.1" text-anchor="end">5</text>
<line x1="26" y1="267.07" x2="28.4" y2="267.07" stroke="#3c3c3c" stroke-width="1.2"/>
<text x="20.6" y="269.87" font-size="8.3" fill="#333" stroke="#333" stroke-width="0.1" text-anchor="end">10</text>
<line x1="26" y1="244.45" x2="28.4" y2="244.45" stroke="#3c3c3c" stroke-width="1.2"/>
<text x="20.6" y="247.25" font-size="8.3" fill="#333" stroke="#333" stroke-width="0.1" text-anchor="end">15</text>
<line x1="26" y1="221.83" x2="28.4" y2="221.83" stroke="#3c3c3c" stroke-width="1.2"/>
<text x="20.6" y="224.63" font-size="8.3" fill="#333" stroke="#333" stroke-width="0.1" text-anchor="end">20</text>
<line x1="26" y1="199.22" x2="28.4" y2="199.22" stroke="#3c3c3c" stroke-width="1.2"/>
<text x="20.6" y="202.02" font-size="8.3" fill="#333" stroke="#333" stroke-width="0.1" text-anchor="end">25</text>
<line x1="26" y1="176.6" x2="28.4" y2="176.6" stroke="#3c3c3c" stroke-width="1.2"/>
<text x="20.6" y="179.4" font-size="8.3" fill="#333" stroke="#333" stroke-width="0.1" text-anchor="end">30</text>
<text x="148.1" y="333.3" font-size="9.2" font-weight="bold" fill="#000" stroke="#000" stroke-width="0.2" text-anchor="middle">Duration(min)</text>
<text transform="translate(10.5,243.25) rotate(-90)" x="0" y="0" font-size="9.5" font-weight="bold" fill="#000" stroke="#000" stroke-width="0.2" text-anchor="middle">Cumulative Rainfall (mm)</text>
<text x="97.2" y="203" font-size="16" fill="#000" font-weight="bold">c</text>
<line x1="301" y1="277.77" x2="541.3" y2="277.77" stroke="#f6f6f6" stroke-width="1"/>
<line x1="301" y1="243.65" x2="541.3" y2="243.65" stroke="#f6f6f6" stroke-width="1"/>
<line x1="301" y1="209.53" x2="541.3" y2="209.53" stroke="#f6f6f6" stroke-width="1"/>
<rect x="378.2" y="185.5" width="24" height="20" fill="#fff"/>
<polyline points="301,175.4 541.3,175.4 541.3,311.9" fill="none" stroke="#8c8c8c" stroke-width="1.2"/>
<polyline points="301,312.2 302.5,311.15 304,310.28 305.5,309.58 307,309.03 308.5,308.61 310,308.28 311.5,308.03 313,307.84 314.5,307.67 316,307.52 317.5,307.35 319,307.14 320.5,306.87 322,306.52 323.5,306.06 325,305.48 326.5,304.73 328,303.82 329.5,302.7 331,301.36 332.5,299.77 334,297.86 335.5,295.58 337,292.95 338.5,290.05 340,286.95 341.5,283.72 343,280.48 344.5,277.31 346,274.31 347.5,271.57 349,269.19 350.5,267.19 352,265.46 353.5,263.91 355,262.42 356.5,260.93 358,259.44 359.5,257.95 361,256.47 362.5,255.01 364,253.57 365.5,252.16 367,250.78 368.5,249.45 370,248.15 371.5,246.89 373,245.67 374.5,244.48 376,243.33 377.5,242.22 379,241.14 380.5,240.09 382,239.08 383.5,238.1 385,237.15 386.5,236.23 388,235.33 389.5,234.47 391,233.63 392.5,232.82 394,232.03 395.5,231.27 397,230.53 398.5,229.81 400,229.12 401.5,228.45 403,227.79 404.5,227.16 406,226.54 407.5,225.94 409,225.36 410.5,224.79 412,224.24 413.5,223.7 415,223.17 416.5,222.66 418,222.15 419.5,221.66 421,221.17 422.5,220.7 424,220.23 425.5,219.77 427,219.31 428.5,218.86 430,218.41 431.5,217.96 433,217.52 434.5,217.08 436,216.64 437.5,216.19 439,215.75 440.5,215.3 442,214.85 443.5,214.4 445,213.94 446.5,213.48 448,213.01 449.5,212.54 451,212.07 452.5,211.6 454,211.12 455.5,210.65 457,210.17 458.5,209.69 460,209.2 461.5,208.72 463,208.24 464.5,207.76 466,207.28 467.5,206.8 469,206.32 470.5,205.84 472,205.36 473.5,204.89 475,204.41 476.5,203.94 478,203.48 479.5,203.01 481,202.55 482.5,202.1 484,201.64 485.5,201.2 487,200.76 488.5,200.32 490,199.89 491.5,199.46 493,199.04 494.5,198.63 496,198.22 497.5,197.82 499,197.43 500.5,197.05 502,196.67 503.5,196.3 505,195.94 506.5,195.59 508,195.25 509.5,194.92 511,194.6 512.5,194.29 514,193.99 515.5,193.7 517,193.42 518.5,193.16 520,192.9 521.5,192.66 523,192.43 523.2,192.4" fill="none" stroke="#9070c0" stroke-width="1.6" stroke-dasharray="8.7 3 2 3 2 3" stroke-linejoin="round"/>
<polyline points="301,312.29 302.5,312.13 304,311.9 305.5,311.61 307,311.25 308.5,310.84 310,310.36 311.5,309.82 313,309.23 314.5,308.59 316,307.89 317.5,307.14 319,306.34 320.5,305.5 322,304.61 323.5,303.67 325,302.7 326.5,301.68 328,300.62 329.5,299.53 331,298.41 332.5,297.25 334,296.05 335.5,294.83 337,293.59 338.5,292.31 340,291.02 341.5,289.69 343,288.35 344.5,286.99 346,285.62 347.5,284.23 349,282.82 350.5,281.41 352,279.98 353.5,278.55 355,277.11 356.5,275.66 358,274.21 359.5,272.77 361,271.32 362.5,269.87 364,268.43 365.5,267 367,265.57 368.5,264.16 370,262.76 371.5,261.36 373,259.99 374.5,258.62 376,257.27 377.5,255.94 379,254.61 380.5,253.3 382,252.01 383.5,250.73 385,249.46 386.5,248.2 388,246.96 389.5,245.73 391,244.52 392.5,243.32 394,242.13 395.5,240.96 397,239.8 398.5,238.65 400,237.52 401.5,236.4 403,235.29 404.5,234.2 406,233.12 407.5,232.06 409,231.01 410.5,229.97 412,228.95 413.5,227.94 415,226.95 416.5,225.97 418,225 419.5,224.05 421,223.11 422.5,222.18 424,221.27 425.5,220.37 427,219.49 428.5,218.62 430,217.76 431.5,216.92 433,216.09 434.5,215.28 436,214.48 437.5,213.69 439,212.92 440.5,212.16 442,211.42 443.5,210.69 445,209.97 446.5,209.27 448,208.58 449.5,207.91 451,207.25 452.5,206.61 454,205.97 455.5,205.36 457,204.75 458.5,204.17 460,203.59 461.5,203.03 463,202.48 464.5,201.95 466,201.44 467.5,200.93 469,200.44 470.5,199.97 472,199.51 473.5,199.06 475,198.63 476.5,198.21 478,197.81 479.5,197.42 481,197.04 482.5,196.68 484,196.34 485.5,196.01 487,195.69 488.5,195.39 490,195.1 491.5,194.82 493,194.56 494.5,194.32 496,194.09 497.5,193.87 499,193.67 500.5,193.48 502,193.31 503.5,193.15 505,193.01 506.5,192.88 508,192.76 509.5,192.66 511,192.58 512.5,192.51 514,192.45 515.5,192.41 517,192.38 518.5,192.37 520,192.38 521.5,192.39 523,192.42 523.2,192.43" fill="none" stroke="#00b050" stroke-width="1.6" stroke-dasharray="5 2.6 2.1 3.1" stroke-linejoin="round"/>
<polyline points="301,312.19 302.5,311.95 304,311.7 305.5,311.46 307,311.2 308.5,310.94 310,310.67 311.5,310.39 313,310.08 314.5,309.76 316,309.41 317.5,309.04 319,308.63 320.5,308.19 322,307.72 323.5,307.2 325,306.65 326.5,306.04 328,305.39 329.5,304.69 331,303.93 332.5,303.12 334,302.24 335.5,301.3 337,300.3 338.5,299.22 340,298.07 341.5,296.84 343,295.54 344.5,294.15 346,292.68 347.5,291.15 349,289.56 350.5,287.91 352,286.22 353.5,284.49 355,282.73 356.5,280.94 358,279.14 359.5,277.33 361,275.52 362.5,273.7 364,271.88 365.5,270.06 367,268.24 368.5,266.42 370,264.6 371.5,262.78 373,260.97 374.5,259.16 376,257.37 377.5,255.58 379,253.8 380.5,252.04 382,250.28 383.5,248.54 385,246.82 386.5,245.11 388,243.42 389.5,241.75 391,240.09 392.5,238.46 394,236.85 395.5,235.26 397,233.69 398.5,232.15 400,230.64 401.5,229.16 403,227.7 404.5,226.27 406,224.88 407.5,223.52 409,222.19 410.5,220.89 412,219.63 413.5,218.41 415,217.23 416.5,216.08 418,214.98 419.5,213.91 421,212.89 422.5,211.92 424,210.98 425.5,210.08 427,209.22 428.5,208.4 430,207.62 431.5,206.87 433,206.16 434.5,205.47 436,204.82 437.5,204.21 439,203.62 440.5,203.05 442,202.52 443.5,202.01 445,201.52 446.5,201.06 448,200.63 449.5,200.21 451,199.82 452.5,199.45 454,199.1 455.5,198.77 457,198.46 458.5,198.17 460,197.89 461.5,197.63 463,197.39 464.5,197.16 466,196.95 467.5,196.75 469,196.57 470.5,196.39 472,196.23 473.5,196.08 475,195.94 476.5,195.81 478,195.69 479.5,195.58 481,195.47 482.5,195.37 484,195.28 485.5,195.19 487,195.1 488.5,195.02 490,194.94 491.5,194.86 493,194.79 494.5,194.71 496,194.64 497.5,194.56 499,194.48 500.5,194.4 502,194.32 503.5,194.24 505,194.14 506.5,194.05 508,193.94 509.5,193.83 511,193.72 512.5,193.59 514,193.46 515.5,193.31 517,193.16 518.5,192.99 520,192.82 521.5,192.62 523,192.42 523.2,192.39" fill="none" stroke="#222222" stroke-width="1.8" stroke-dasharray="8.5 3.8" stroke-linejoin="round"/>
<polyline points="301,312.19 302.5,311.66 304,311.15 305.5,310.67 307,310.18 308.5,309.68 310,309.16 311.5,308.6 313,307.98 314.5,307.29 316,306.52 317.5,305.66 319,304.68 320.5,303.57 322,302.33 323.5,300.92 325,299.35 326.5,297.6 328,295.65 329.5,293.53 331,291.25 332.5,288.86 334,286.38 335.5,283.84 337,281.28 338.5,278.73 340,276.21 341.5,273.75 343,271.35 344.5,269 346,266.71 347.5,264.48 349,262.3 350.5,260.18 352,258.12 353.5,256.11 355,254.15 356.5,252.25 358,250.4 359.5,248.6 361,246.86 362.5,245.17 364,243.52 365.5,241.93 367,240.39 368.5,238.9 370,237.46 371.5,236.06 373,234.72 374.5,233.42 376,232.17 377.5,230.96 379,229.8 380.5,228.69 382,227.62 383.5,226.59 385,225.6 386.5,224.65 388,223.73 389.5,222.86 391,222.02 392.5,221.21 394,220.43 395.5,219.69 397,218.98 398.5,218.3 400,217.64 401.5,217.01 403,216.41 404.5,215.83 406,215.27 407.5,214.74 409,214.22 410.5,213.72 412,213.25 413.5,212.78 415,212.34 416.5,211.9 418,211.48 419.5,211.07 421,210.67 422.5,210.28 424,209.9 425.5,209.52 427,209.15 428.5,208.78 430,208.42 431.5,208.05 433,207.69 434.5,207.32 436,206.95 437.5,206.59 439,206.22 440.5,205.85 442,205.48 443.5,205.11 445,204.74 446.5,204.37 448,204 449.5,203.63 451,203.26 452.5,202.9 454,202.54 455.5,202.18 457,201.82 458.5,201.46 460,201.11 461.5,200.76 463,200.41 464.5,200.07 466,199.73 467.5,199.4 469,199.07 470.5,198.74 472,198.42 473.5,198.1 475,197.79 476.5,197.49 478,197.19 479.5,196.9 481,196.62 482.5,196.34 484,196.07 485.5,195.8 487,195.55 488.5,195.3 490,195.06 491.5,194.83 493,194.61 494.5,194.4 496,194.19 497.5,194 499,193.81 500.5,193.64 502,193.47 503.5,193.32 505,193.18 506.5,193.04 508,192.92 509.5,192.82 511,192.72 512.5,192.63 514,192.56 515.5,192.5 517,192.46 518.5,192.42 520,192.4 521.5,192.4 523,192.41 523.2,192.41" fill="none" stroke="#ff0000" stroke-width="1.5" stroke-dasharray="3.1 1.1" stroke-linejoin="round"/>
<polyline points="301.8,308.5 311.4,306.6 321.5,305.4 327.1,303.6 330,302.4 332.3,297.7 335.1,294.3 337.8,291 339.6,282 341.4,275.8 346.7,271.4 352,264.2 357.4,260.7 362.7,257.1 370,250 373.1,242 376.4,236.4 381.8,229.8 387.3,226.5 389.5,223.3 398.2,217.8 409.1,213.5 420,209.9 433.3,205.3 453.3,200.8 475.5,196.8 497.6,194.2 523.2,192.4" fill="none" stroke="#2b84cc" stroke-width="1.45" stroke-linejoin="round"/>
<rect x="455.9" y="246" width="85.4" height="65.9" fill="#fff" stroke="#9a9a9a" stroke-width="1"/>
<line x1="459.6" y1="252.5" x2="479.7" y2="252.5" stroke="#2b84cc" stroke-width="1.45"/>
<text x="481.9" y="255.1" font-size="7.8" fill="#1e1e1e" stroke="#1e1e1e" stroke-width="0.12">Observed Rainfall</text>
<line x1="459.6" y1="265.75" x2="479.7" y2="265.75" stroke="#ff0000" stroke-width="1.5" stroke-dasharray="3.1 1.1"/>
<text x="481.9" y="268.35" font-size="7.8" fill="#1e1e1e" stroke="#1e1e1e" stroke-width="0.12">Improved Huff</text>
<line x1="459.6" y1="279" x2="479.7" y2="279" stroke="#222222" stroke-width="1.8" stroke-dasharray="8.5 3.8"/>
<text x="481.9" y="281.6" font-size="7.8" fill="#1e1e1e" stroke="#1e1e1e" stroke-width="0.12">Huff</text>
<line x1="459.6" y1="292.25" x2="479.7" y2="292.25" stroke="#00b050" stroke-width="1.6" stroke-dasharray="5 2.6 2.1 3.1"/>
<text x="481.9" y="294.85" font-size="7.8" fill="#1e1e1e" stroke="#1e1e1e" stroke-width="0.12">Triangular</text>
<line x1="459.6" y1="305.5" x2="479.7" y2="305.5" stroke="#9070c0" stroke-width="1.6" stroke-dasharray="8.7 3 2 3 2 3"/>
<text x="481.9" y="308.1" font-size="7.8" fill="#1e1e1e" stroke="#1e1e1e" stroke-width="0.12">Chicago</text>
<line x1="301" y1="175.4" x2="301" y2="311.9" stroke="#3c3c3c" stroke-width="1.4"/>
<line x1="300.3" y1="311.9" x2="541.3" y2="311.9" stroke="#3c3c3c" stroke-width="1.4"/>
<line x1="301" y1="311.9" x2="301" y2="314.2" stroke="#3c3c3c" stroke-width="1.2"/>
<line x1="308.51" y1="311.9" x2="308.51" y2="314.2" stroke="#3c3c3c" stroke-width="1.2"/>
<line x1="316.02" y1="311.9" x2="316.02" y2="314.2" stroke="#3c3c3c" stroke-width="1.2"/>
<line x1="323.53" y1="311.9" x2="323.53" y2="314.2" stroke="#3c3c3c" stroke-width="1.2"/>
<line x1="331.04" y1="311.9" x2="331.04" y2="314.2" stroke="#3c3c3c" stroke-width="1.2"/>
<line x1="338.55" y1="311.9" x2="338.55" y2="314.2" stroke="#3c3c3c" stroke-width="1.2"/>
<line x1="346.06" y1="311.9" x2="346.06" y2="314.2" stroke="#3c3c3c" stroke-width="1.2"/>
<line x1="353.57" y1="311.9" x2="353.57" y2="314.2" stroke="#3c3c3c" stroke-width="1.2"/>
<line x1="361.07" y1="311.9" x2="361.07" y2="314.2" stroke="#3c3c3c" stroke-width="1.2"/>
<line x1="368.58" y1="311.9" x2="368.58" y2="314.2" stroke="#3c3c3c" stroke-width="1.2"/>
<line x1="376.09" y1="311.9" x2="376.09" y2="314.2" stroke="#3c3c3c" stroke-width="1.2"/>
<line x1="383.6" y1="311.9" x2="383.6" y2="314.2" stroke="#3c3c3c" stroke-width="1.2"/>
<line x1="391.11" y1="311.9" x2="391.11" y2="314.2" stroke="#3c3c3c" stroke-width="1.2"/>
<line x1="398.62" y1="311.9" x2="398.62" y2="314.2" stroke="#3c3c3c" stroke-width="1.2"/>
<line x1="406.13" y1="311.9" x2="406.13" y2="314.2" stroke="#3c3c3c" stroke-width="1.2"/>
<line x1="413.64" y1="311.9" x2="413.64" y2="314.2" stroke="#3c3c3c" stroke-width="1.2"/>
<line x1="421.15" y1="311.9" x2="421.15" y2="314.2" stroke="#3c3c3c" stroke-width="1.2"/>
<line x1="428.66" y1="311.9" x2="428.66" y2="314.2" stroke="#3c3c3c" stroke-width="1.2"/>
<line x1="436.17" y1="311.9" x2="436.17" y2="314.2" stroke="#3c3c3c" stroke-width="1.2"/>
<line x1="443.68" y1="311.9" x2="443.68" y2="314.2" stroke="#3c3c3c" stroke-width="1.2"/>
<line x1="451.19" y1="311.9" x2="451.19" y2="314.2" stroke="#3c3c3c" stroke-width="1.2"/>
<line x1="458.7" y1="311.9" x2="458.7" y2="314.2" stroke="#3c3c3c" stroke-width="1.2"/>
<line x1="466.21" y1="311.9" x2="466.21" y2="314.2" stroke="#3c3c3c" stroke-width="1.2"/>
<line x1="473.72" y1="311.9" x2="473.72" y2="314.2" stroke="#3c3c3c" stroke-width="1.2"/>
<line x1="481.22" y1="311.9" x2="481.22" y2="314.2" stroke="#3c3c3c" stroke-width="1.2"/>
<line x1="488.73" y1="311.9" x2="488.73" y2="314.2" stroke="#3c3c3c" stroke-width="1.2"/>
<line x1="496.24" y1="311.9" x2="496.24" y2="314.2" stroke="#3c3c3c" stroke-width="1.2"/>
<line x1="503.75" y1="311.9" x2="503.75" y2="314.2" stroke="#3c3c3c" stroke-width="1.2"/>
<line x1="511.26" y1="311.9" x2="511.26" y2="314.2" stroke="#3c3c3c" stroke-width="1.2"/>
<line x1="518.77" y1="311.9" x2="518.77" y2="314.2" stroke="#3c3c3c" stroke-width="1.2"/>
<line x1="526.28" y1="311.9" x2="526.28" y2="314.2" stroke="#3c3c3c" stroke-width="1.2"/>
<line x1="533.79" y1="311.9" x2="533.79" y2="314.2" stroke="#3c3c3c" stroke-width="1.2"/>
<line x1="541.3" y1="311.9" x2="541.3" y2="314.2" stroke="#3c3c3c" stroke-width="1.2"/>
<text x="301" y="323.8" font-size="8.3" fill="#333" stroke="#333" stroke-width="0.1" text-anchor="middle">0</text>
<text x="331.04" y="323.8" font-size="8.3" fill="#333" stroke="#333" stroke-width="0.1" text-anchor="middle">20</text>
<text x="361.07" y="323.8" font-size="8.3" fill="#333" stroke="#333" stroke-width="0.1" text-anchor="middle">40</text>
<text x="391.11" y="323.8" font-size="8.3" fill="#333" stroke="#333" stroke-width="0.1" text-anchor="middle">60</text>
<text x="421.15" y="323.8" font-size="8.3" fill="#333" stroke="#333" stroke-width="0.1" text-anchor="middle">80</text>
<text x="451.19" y="323.8" font-size="8.3" fill="#333" stroke="#333" stroke-width="0.1" text-anchor="middle">100</text>
<text x="481.22" y="323.8" font-size="8.3" fill="#333" stroke="#333" stroke-width="0.1" text-anchor="middle">120</text>
<text x="511.26" y="323.8" font-size="8.3" fill="#333" stroke="#333" stroke-width="0.1" text-anchor="middle">140</text>
<text x="541.3" y="323.8" font-size="8.3" fill="#333" stroke="#333" stroke-width="0.1" text-anchor="middle">160</text>
<line x1="298.6" y1="311.9" x2="301" y2="311.9" stroke="#3c3c3c" stroke-width="1.2"/>
<text x="294.2" y="314.7" font-size="8.3" fill="#333" stroke="#333" stroke-width="0.1" text-anchor="end">0</text>
<line x1="298.6" y1="277.77" x2="301" y2="277.77" stroke="#3c3c3c" stroke-width="1.2"/>
<text x="294.2" y="280.57" font-size="8.3" fill="#333" stroke="#333" stroke-width="0.1" text-anchor="end">10</text>
<line x1="298.6" y1="243.65" x2="301" y2="243.65" stroke="#3c3c3c" stroke-width="1.2"/>
<text x="294.2" y="246.45" font-size="8.3" fill="#333" stroke="#333" stroke-width="0.1" text-anchor="end">20</text>
<line x1="298.6" y1="209.53" x2="301" y2="209.53" stroke="#3c3c3c" stroke-width="1.2"/>
<text x="294.2" y="212.33" font-size="8.3" fill="#333" stroke="#333" stroke-width="0.1" text-anchor="end">30</text>
<line x1="298.6" y1="175.4" x2="301" y2="175.4" stroke="#3c3c3c" stroke-width="1.2"/>
<text x="294.2" y="178.2" font-size="8.3" fill="#333" stroke="#333" stroke-width="0.1" text-anchor="end">40</text>
<text x="421.15" y="332.9" font-size="9.2" font-weight="bold" fill="#000" stroke="#000" stroke-width="0.2" text-anchor="middle">Duration(min)</text>
<text transform="translate(283.1,242.65) rotate(-90)" x="0" y="0" font-size="9.5" font-weight="bold" fill="#000" stroke="#000" stroke-width="0.2" text-anchor="middle">Cumulative Rainfall (mm)</text>
<text x="388.2" y="201.5" font-size="16" fill="#000">d</text>
</svg>
</body></html>
